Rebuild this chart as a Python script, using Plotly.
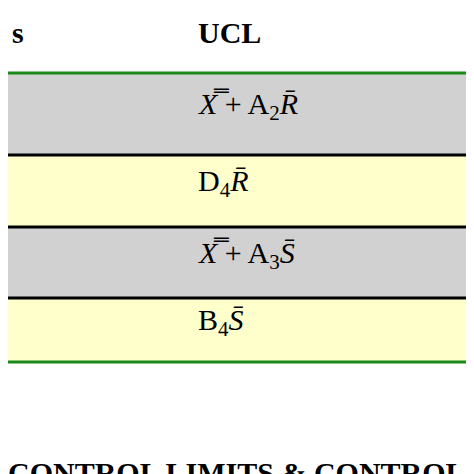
import plotly.graph_objects as go

headers = ["s", "UCL", "C"]
header_x = [-6, 180, 452]
formulas = ["<i>X̿</i> + A<sub>2</sub><i>R̄</i>",
            "D<sub>4</sub><i>R̄</i>",
            "<i>X̿</i> + A<sub>3</sub><i>S̄</i>",
            "B<sub>4</sub><i>S̄</i>"]
row_fill = ["#d1d1d1", "#ffffcc", "#d1d1d1", "#ffffcc"]
row_edges = [57, 139, 211, 282, 346]
title = "CONTROL LIMITS & CONTROL CHARTS"

OFF = 8  # page margin compensation
W = 474.0

def px(x):
    return (x + OFF) / W

def py(y):
    return 1 - (y + OFF) / W

fig = go.Figure()
font = dict(family="Liberation Serif", size=30, color="black")
shapes = []
for i, f in enumerate(formulas):
    y0, y1 = row_edges[i], row_edges[i + 1]
    shapes.append(dict(type="rect", xref="paper", yref="paper", x0=-0.1, x1=1.1,
                       y0=py(y0), y1=py(y1), fillcolor=row_fill[i], line_width=0, layer="below"))
    fig.add_annotation(xref="paper", yref="paper", x=px(180), y=py((y0 + y1) / 2 - 8), text=f,
                       showarrow=False, xanchor="left", yanchor="middle", font=font)
for j, y in enumerate(row_edges):
    c = "#1a8a1a" if j in (0, len(row_edges) - 1) else "black"
    shapes.append(dict(type="line", xref="paper", yref="paper", x0=-0.1, x1=1.1,
                       y0=py(y), y1=py(y), line=dict(color=c, width=3)))
for h, x in zip(headers, header_x):
    fig.add_annotation(xref="paper", yref="paper", x=px(x), y=py(16), text="<b>" + h + "</b>",
                       showarrow=False, xanchor="left", yanchor="middle", font=font)
fig.add_annotation(xref="paper", yref="paper", x=px(-10), y=py(456), text="<b>" + title + "</b>",
                   showarrow=False, xanchor="left", yanchor="middle", font=font)
fig.update_layout(width=474, height=474, margin=dict(l=0, r=0, t=0, b=0),
                  paper_bgcolor="white", plot_bgcolor="white", shapes=shapes,
                  xaxis=dict(visible=False, fixedrange=True),
                  yaxis=dict(visible=False, fixedrange=True),
                  showlegend=False)
fig.write_html("out.html")
